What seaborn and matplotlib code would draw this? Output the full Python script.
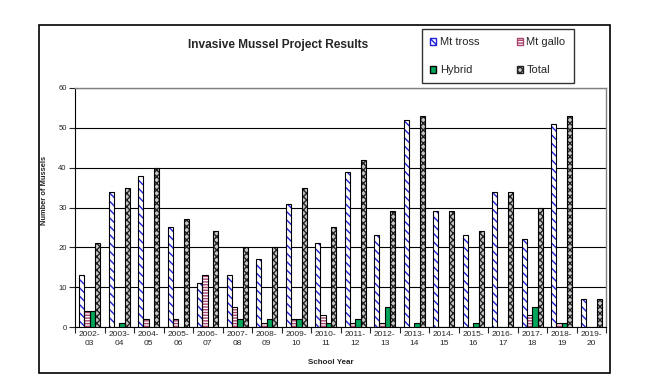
import numpy as np
import pandas as pd
import matplotlib.pyplot as plt
import seaborn as sns
from matplotlib.patches import Rectangle, Patch


years = ['2002-\n03', '2003-\n04', '2004-\n05', '2005-\n06', '2006-\n07', '2007-\n08',
         '2008-\n09', '2009-\n10', '2010-\n11', '2011-\n12', '2012-\n13', '2013-\n14',
         '2014-\n15', '2015-\n16', '2016-\n17', '2017-\n18', '2018-\n19', '2019-\n20']
mt_tross = [13, 34, 38, 25, 11, 13, 17, 31, 21, 39, 23, 52, 29, 23, 34, 22, 51, 7]
mt_gallo = [4, 0, 2, 2, 13, 5, 1, 2, 3, 1, 1, 0, 0, 0, 0, 3, 1, 0]
hybrid = [4, 1, 0, 0, 0, 2, 2, 2, 1, 2, 5, 1, 0, 1, 0, 5, 1, 0]
total = [21, 35, 40, 27, 24, 20, 20, 35, 25, 42, 29, 53, 29, 24, 34, 30, 53, 7]

series = ['Mt tross', 'Mt gallo', 'Hybrid', 'Total']
df = pd.DataFrame({'year': years, 'Mt tross': mt_tross, 'Mt gallo': mt_gallo,
                   'Hybrid': hybrid, 'Total': total})
df = df.melt(id_vars='year', var_name='series', value_name='count')

# fill / hatch / hatch colour per series (excel-ish patterns)
estilos = {
    'Mt tross': ('white', '\\\\\\\\', '#2020d8'),
    'Mt gallo': ('white', '------', '#a8456f'),
    'Hybrid': ('#00a65a', None, 'black'),
    'Total': ('#c8c8c8', 'xxxxx', '#222222'),
}

sns.set_style('white')
plt.rcParams['font.family'] = ['Liberation Sans', 'DejaVu Sans']
plt.rcParams['hatch.linewidth'] = 1.0

fig = plt.figure(figsize=(6.61, 3.91), dpi=100)
ax = fig.add_axes([75 / 661, 1 - 327 / 391, 531 / 661, 239 / 391])

sns.barplot(data=df, x='year', y='count', hue='series', hue_order=series,
            width=0.72, gap=0, ax=ax, legend=False, zorder=3)

for cont, name in zip(ax.containers, series):
    face, hatch, hc = estilos[name]
    for bar in cont:
        bar.set_facecolor(face)
        bar.set_hatch(hatch)
        bar.set_edgecolor(hc)
        bar.set_linewidth(0)
        if bar.get_height() > 0:
            ax.add_patch(Rectangle(bar.get_xy(), bar.get_width(), bar.get_height(),
                                   fill=False, edgecolor='black', lw=0.8, zorder=4))

ax.set_ylim(0, 60)
ax.set_xlim(-0.5, 17.5)
ax.set_yticks(range(0, 61, 10))
ax.yaxis.grid(True, color='black', lw=0.8)
ax.set_axisbelow(True)

ax.set_xticks(np.arange(-0.5, 18, 1))
ax.set_xticklabels([])
ax.set_xticks(range(len(years)), minor=True)
ax.set_xticklabels(years, minor=True, fontsize=6)
for t in ax.get_xticklabels(minor=True):
    t.set_linespacing(1.35)
ax.tick_params(axis='x', which='minor', length=0, pad=3)
ax.tick_params(axis='x', which='major', bottom=True, length=4, width=0.8, direction='out')
ax.tick_params(axis='y', left=True, length=4, width=0.8, direction='out', labelsize=5.5, pad=2)
ax.set_xlabel('')
ax.set_ylabel('')

for s in ['left', 'bottom']:
    ax.spines[s].set_color('black')
    ax.spines[s].set_linewidth(0.8)
for s in ['top', 'right']:
    ax.spines[s].set_color('#808080')
    ax.spines[s].set_linewidth(1)

fig.text(278 / 661, 1 - 45 / 391, 'Invasive Mussel Project Results', ha='center', va='center',
         fontsize=8.6, fontweight='bold')
fig.text(45 / 661, 1 - 190 / 391, 'Number of Mussels', rotation=90, ha='center', va='center',
         fontsize=5.4, fontweight='bold')
fig.text(331 / 661, 1 - 363 / 391, 'School Year', ha='center', va='center',
         fontsize=5.8, fontweight='bold')

# outer chart border
fig.add_artist(Rectangle((39 / 661, 1 - 373 / 391), 571 / 661, 348 / 391,
                         transform=fig.transFigure, fill=False, ec='black', lw=1.2))

orden = ['Mt tross', 'Hybrid', 'Mt gallo', 'Total']
handles = [Patch(facecolor=estilos[n][0], hatch=estilos[n][1], edgecolor=estilos[n][2])
           for n in orden]
leg = fig.legend(handles, orden, loc='upper left', bbox_to_anchor=(422 / 661, 1 - 29 / 391),
                 borderaxespad=0, ncol=2, frameon=True, fancybox=False, edgecolor='black',
                 fontsize=8, handlelength=0.55, handleheight=0.55, handletextpad=0.35,
                 columnspacing=3.3, labelspacing=1.6, borderpad=0.75)
leg.get_frame().set_linewidth(1)

fig.savefig('out.png', dpi=100)
